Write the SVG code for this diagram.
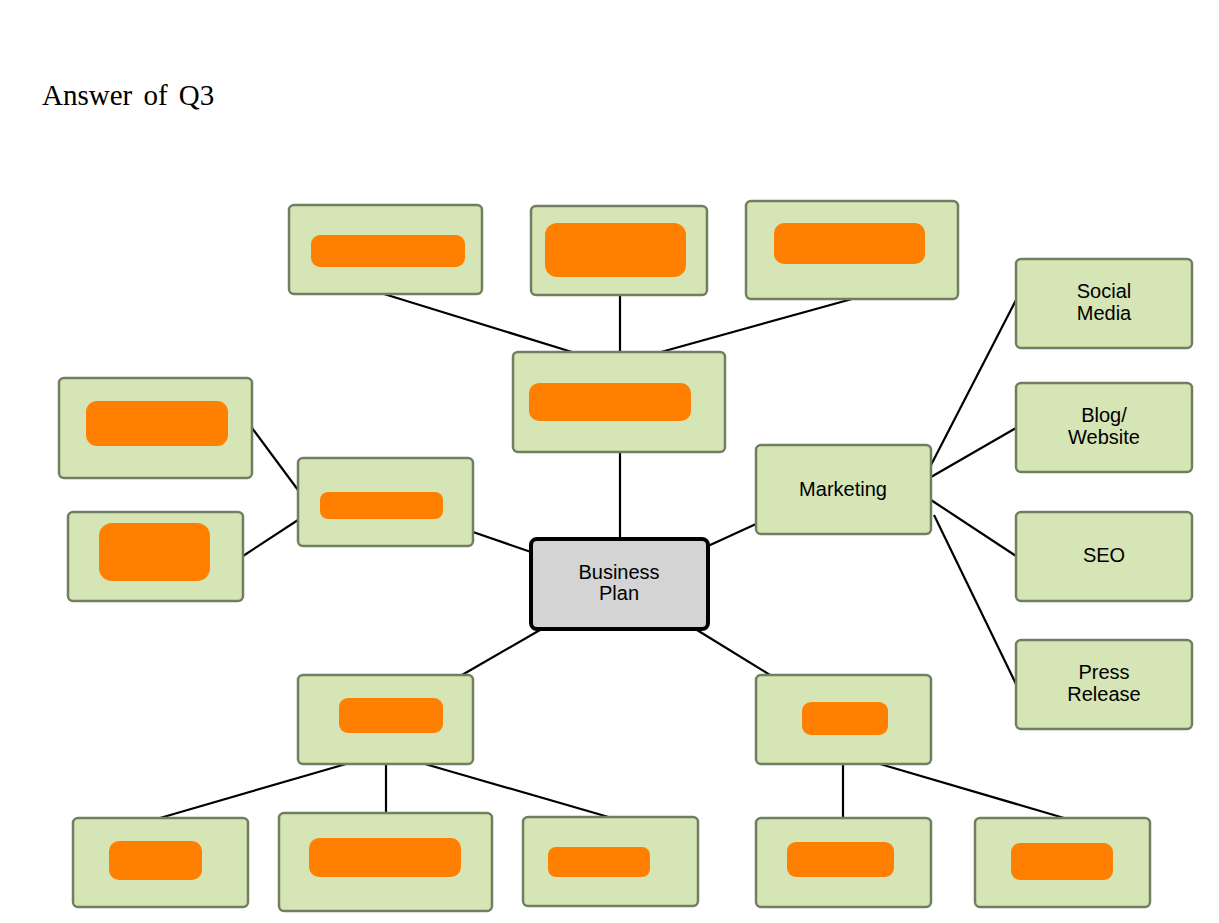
<svg xmlns="http://www.w3.org/2000/svg" width="1219" height="923" viewBox="0 0 1219 923">
<style>
.n{fill:#d5e5b5;stroke:#6f7f5f;stroke-width:2.5}
.o{fill:#ff8000}
.t{font-family:"Liberation Sans",Arial,sans-serif;font-size:20px;fill:#000;text-anchor:middle}
#connectors line{stroke:#000;stroke-width:2.2}
</style>
<rect width="1219" height="923" fill="#fff"/>
<text x="42" y="105" font-family="'Liberation Serif','DejaVu Serif',serif" font-size="29" word-spacing="4">Answer of Q3</text>
<g id="connectors">
<line x1="384" y1="294" x2="572" y2="352"/>
<line x1="620" y1="295" x2="620" y2="352"/>
<line x1="852" y1="299" x2="661" y2="352"/>
<line x1="620" y1="452" x2="620" y2="539"/>
<line x1="473" y1="532" x2="531" y2="552"/>
<line x1="252" y1="428" x2="298" y2="490"/>
<line x1="243" y1="556" x2="298" y2="520"/>
<line x1="756" y1="524" x2="708" y2="546"/>
<line x1="931" y1="465" x2="1016" y2="300"/>
<line x1="931" y1="477" x2="1016" y2="428"/>
<line x1="931" y1="500" x2="1016" y2="556"/>
<line x1="934" y1="515" x2="1016" y2="684"/>
<line x1="540" y1="630" x2="462" y2="675"/>
<line x1="697" y1="630" x2="770" y2="675"/>
<line x1="346" y1="764" x2="160" y2="818"/>
<line x1="386" y1="764" x2="386" y2="813"/>
<line x1="425" y1="764" x2="612" y2="818"/>
<line x1="843" y1="764" x2="843" y2="818"/>
<line x1="880" y1="764" x2="1064" y2="818"/>
</g>
<g id="top1"><rect class="n" x="289" y="205" width="193" height="89" rx="5"/><rect class="o" x="311" y="235" width="154" height="32" rx="9"/></g>
<g id="top2"><rect class="n" x="531" y="206" width="176" height="89" rx="5"/><rect class="o" x="545" y="223" width="141" height="54" rx="12"/></g>
<g id="top3"><rect class="n" x="746" y="201" width="212" height="98" rx="5"/><rect class="o" x="774" y="223" width="151" height="41" rx="10"/></g>
<g id="mid"><rect class="n" x="513" y="352" width="212" height="100" rx="5"/><rect class="o" x="529" y="383" width="162" height="38" rx="10"/></g>
<g id="leftA"><rect class="n" x="59" y="378" width="193" height="100" rx="5"/><rect class="o" x="86" y="401" width="142" height="45" rx="11"/></g>
<g id="leftB"><rect class="n" x="68" y="512" width="175" height="89" rx="5"/><rect class="o" x="99" y="523" width="111" height="58" rx="13"/></g>
<g id="left"><rect class="n" x="298" y="458" width="175" height="88" rx="5"/><rect class="o" x="320" y="492" width="123" height="27" rx="8"/></g>
<g id="center"><rect x="531" y="539" width="177" height="90" rx="6" fill="#d4d4d4" stroke="#000" stroke-width="4"/><text class="t" x="619" y="579">Business</text><text class="t" x="619" y="600">Plan</text></g>
<g id="marketing"><rect class="n" x="756" y="445" width="175" height="89" rx="5"/><text class="t" x="843" y="496">Marketing</text></g>
<g id="social"><rect class="n" x="1016" y="259" width="176" height="89" rx="5"/><text class="t" x="1104" y="298">Social</text><text class="t" x="1104" y="320">Media</text></g>
<g id="blog"><rect class="n" x="1016" y="383" width="176" height="89" rx="5"/><text class="t" x="1104" y="422">Blog/</text><text class="t" x="1104" y="444">Website</text></g>
<g id="seo"><rect class="n" x="1016" y="512" width="176" height="89" rx="5"/><text class="t" x="1104" y="562">SEO</text></g>
<g id="press"><rect class="n" x="1016" y="640" width="176" height="89" rx="5"/><text class="t" x="1104" y="679">Press</text><text class="t" x="1104" y="701">Release</text></g>
<g id="botL"><rect class="n" x="298" y="675" width="175" height="89" rx="5"/><rect class="o" x="339" y="698" width="104" height="35" rx="9"/></g>
<g id="botR"><rect class="n" x="756" y="675" width="175" height="89" rx="5"/><rect class="o" x="802" y="702" width="86" height="33" rx="9"/></g>
<g id="b1"><rect class="n" x="73" y="818" width="175" height="89" rx="5"/><rect class="o" x="109" y="841" width="93" height="39" rx="10"/></g>
<g id="b2"><rect class="n" x="279" y="813" width="213" height="98" rx="5"/><rect class="o" x="309" y="838" width="152" height="39" rx="10"/></g>
<g id="b3"><rect class="n" x="523" y="817" width="175" height="89" rx="5"/><rect class="o" x="548" y="847" width="102" height="30" rx="8"/></g>
<g id="b4"><rect class="n" x="756" y="818" width="175" height="89" rx="5"/><rect class="o" x="787" y="842" width="107" height="35" rx="9"/></g>
<g id="b5"><rect class="n" x="975" y="818" width="175" height="89" rx="5"/><rect class="o" x="1011" y="843" width="102" height="37" rx="9"/></g>
</svg>
